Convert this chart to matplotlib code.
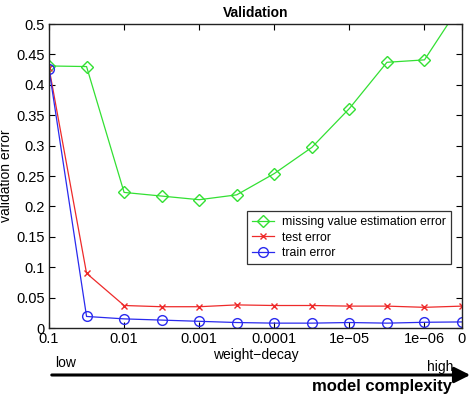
import matplotlib
matplotlib.use("Agg")
import matplotlib.pyplot as plt
import numpy as np

plt.rcParams['font.family'] = ['Liberation Sans', 'DejaVu Sans']

x_labels = ['0.1', '0.01', '0.001', '0.0001', '1e\u221205', '1e\u221206', '0']
x_tick_pos = [0, 2, 4, 6, 8, 10, 11]
steps = list(range(12))

missing = [0.431, 0.430, 0.223, 0.217, 0.211, 0.219, 0.254, 0.297, 0.361, 0.437, 0.441, 0.535]
test_err = [0.428, 0.090, 0.037, 0.035, 0.035, 0.038, 0.037, 0.037, 0.036, 0.036, 0.034, 0.036]
train_err = [0.426, 0.019, 0.015, 0.013, 0.011, 0.009, 0.008, 0.008, 0.009, 0.008, 0.0094, 0.010]

fig = plt.figure(figsize=(4.74, 3.97), dpi=100)
ax = fig.add_axes([49/474, 1-328/397, (462-49)/474, (328-24)/397])

ax.plot(steps, missing, color='#33e033', marker='D', markersize=6, markerfacecolor='none',
        lw=0.9, label='missing value estimation error')
ax.plot(steps, test_err, color='#ee2a2a', marker='x', markersize=5, lw=0.9, label='test error')
ax.plot(steps, train_err, color='#2a2aee', marker='o', markersize=7, markerfacecolor='none',
        lw=0.9, label='train error')

ax.set_xlim(0, 11)
ax.set_ylim(0, 0.5)
ax.set_xticks(x_tick_pos)
ax.set_xticklabels(x_labels)
ax.set_yticks(np.arange(0, 0.501, 0.05))
ax.set_yticklabels(['0', '0.05', '0.1', '0.15', '0.2', '0.25', '0.3', '0.35', '0.4', '0.45', '0.5'])
ax.tick_params(direction='in', top=True, right=True, labelsize=10.5, length=4, width=0.8, pad=3)
for s in ax.spines.values():
    s.set_linewidth(1.0)
    s.set_color('#222222')

ax.set_title('Validation', fontsize=10, fontweight='bold', pad=5)
ax.set_ylabel('validation error', fontsize=10, labelpad=2)
ax.set_xlabel('weight\u2212decay', fontsize=10, labelpad=1)

leg = ax.legend(loc='upper left', bbox_to_anchor=((247-49)/413, (328-211)/304),
                fontsize=8.8, frameon=True, fancybox=False, edgecolor='black',
                borderpad=0.4, labelspacing=0.3, handlelength=1.8, handletextpad=0.7,
                borderaxespad=0)
leg.get_frame().set_linewidth(0.9)

# model complexity arrow
fig.add_artist(matplotlib.patches.FancyArrowPatch(
    (49/474, 1-375/397), (473/474, 1-375/397), transform=fig.transFigure,
    arrowstyle='-|>,head_length=6,head_width=3', mutation_scale=1.6, lw=2.2, color='black'))
fig.text(55/474, 1-363/397, 'low', fontsize=10, va='center', ha='left')
fig.text(453/474, 1-367/397, 'high', fontsize=10, va='center', ha='right')
fig.text(452/474, 1-387/397, 'model complexity', fontsize=12, fontweight='bold', va='center', ha='right')

fig.savefig('out.png', dpi=100)
